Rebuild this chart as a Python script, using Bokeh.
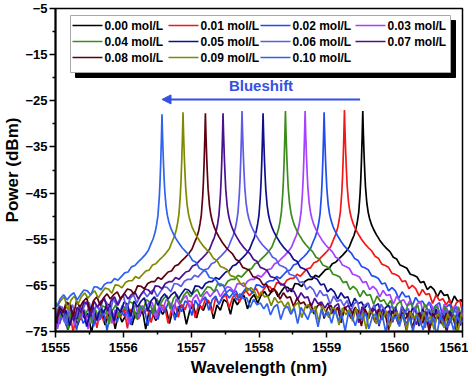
import numpy as np
from bokeh.plotting import figure
from bokeh.models import FixedTicker, Arrow, NormalHead, Label, Range1d
from bokeh.core.properties import value
from bokeh.embed import file_html
from bokeh.resources import INLINE

# ---------------- data ----------------
labels = ["0.00 mol/L", "0.01 mol/L", "0.02 mol/L", "0.03 mol/L", "0.04 mol/L",
          "0.05 mol/L", "0.06 mol/L", "0.07 mol/L", "0.08 mol/L", "0.09 mol/L",
          "0.10 mol/L"]
peak_wavelength = [1559.53, 1559.26, 1558.96, 1558.68, 1558.39, 1558.06,
                   1557.75, 1557.47, 1557.21, 1556.88, 1556.57]
peak_power = [-27.2, -27.0, -27.5, -27.2, -27.2, -27.7, -27.2, -27.7, -27.7,
              -27.5, -27.9]

# spectral shape (dBm), for a peak level of REF_PEAK,
# offsets in nm from the peak
REF_PEAK = -27.5
near_offset = [0.0, 0.005, 0.01, 0.02, 0.03, 0.04, 0.06, 0.08, 0.10, 0.13,
               0.16, 0.20, 0.25, 0.30, 0.35]
near_right = [-27.5, -30.5, -33.0, -37.5, -41.0, -44.0, -47.5, -49.5, -50.8,
              -52.2, -53.2, -54.3, -55.5, -56.5, -57.3]
near_left = [-27.5, -30.5, -33.5, -38.5, -42.5, -45.5, -49.5, -51.5, -53.0,
             -54.5, -55.5, -57.0, -58.0, -58.8, -59.5]
tail_offset = [0.40, 0.45, 0.50, 0.55, 0.60, 0.65, 0.70, 0.75, 0.80, 0.85,
               0.90, 0.95, 1.00, 1.05, 1.10, 1.15, 1.20, 1.25, 1.30, 1.35,
               1.40, 1.45, 1.50, 1.55, 1.60, 1.65, 1.70, 1.75, 1.80, 1.85,
               1.90, 1.95, 2.00, 2.05, 2.10, 2.15, 2.20, 2.25, 2.30, 2.35,
               2.40, 2.45, 2.50, 2.55, 2.60, 2.65, 2.70, 2.75, 2.80, 2.85,
               2.90, 2.95, 3.00, 3.05, 3.10, 3.15, 3.20, 3.25, 3.30, 3.35,
               3.40, 3.45, 3.50, 3.55, 3.60, 3.65, 3.70, 3.75, 3.80, 3.85,
               3.90, 3.95, 4.00, 4.05, 4.10, 4.15, 4.20, 4.25, 4.30, 4.35,
               4.40, 4.45, 4.50, 4.55, 4.60]
tail_right = [-58.0, -59.2, -59.6, -60.9, -61.2, -61.6, -62.9, -63.1, -63.5, -64.7,
              -64.5, -66.2, -65.5, -66.2, -67.8, -66.4, -67.5, -67.3, -69.4, -67.6,
              -68.8, -68.4, -69.7, -68.6, -71.0, -69.3, -68.75, -72.0, -69.7, -69.15,
              -70.9, -69.5, -72.9, -69.4, -70.65, -72.0, -69.8, -70.25, -73.6, -69.9,
              -71.35, -70.3, -72.8, -69.95, -72.2, -70.95, -74.5, -70.45, -71.3, -73.35,
              -70.7, -72.15, -70.5, -74.0, -71.45, -70.8, -73.0, -71.25, -74.8, -70.8,
              -72.15, -71.3, -73.5, -70.8, -72.85, -71.6, -74.6, -71.2, -72.05, -74.25,
              -71.2, -72.8, -71.4, -75.55, -71.15, -72.4, -73.7, -71.6, -74.35, -71.15,
              -72.8, -72.0, -75.2, -71.5, -73.4]
tail_left = [-60.3, -60.6, -61.7, -61.9, -62.7, -63.5, -63.1, -64.0, -64.0, -64.4,
             -65.55, -65.0, -64.9, -66.7, -65.8, -65.6, -66.6, -67.75, -66.2, -66.8,
             -67.75, -66.65, -67.5, -69.15, -67.3, -68.15, -70.4, -67.5, -68.25, -69.5,
             -68.2, -71.55, -68.9, -68.4, -70.7, -69.55, -72.55, -69.15, -68.85, -70.75,
             -69.65, -72.4, -69.5, -70.7, -73.75, -70.05, -69.75, -72.1, -70.6, -73.55,
             -70.25, -71.6, -70.1, -72.95, -71.3, -70.65, -74.8, -70.55, -72.4, -71.15,
             -73.9, -70.65, -72.0, -73.25, -71.15, -74.7, -71.05, -71.75, -73.9, -70.8,
             -73.05, -71.7, -75.6, -71.35, -72.45, -71.2, -73.9, -71.65, -72.85, -74.9,
             -71.2, -72.35, -73.65, -71.5, -74.8]

x_ticks = [1555, 1556, 1557, 1558, 1559, 1560, 1561]
y_ticks = [-75, -65, -55, -45, -35, -25, -15, -5]

# ---------------- styles ----------------
colors = ["#000000", "#f21818", "#1f4df0", "#a542ff", "#3a8c1c", "#10108e",
          "#5b5be6", "#4b1090", "#5e0012", "#7f8a00", "#2f62ee"]
FONT = "Liberation Sans"
BLUE = "#3450e6"
FW, FH = 407, 323
X0, X1, Y0, Y1 = 1555, 1561, -75, -5

p = figure(frame_width=FW, frame_height=FH,
           x_range=Range1d(X0, X1), y_range=Range1d(Y0, Y1),
           output_backend="svg", toolbar_location=None,
           min_border_left=53, min_border_right=6, min_border_top=8,
           min_border_bottom=40, background_fill_color="white",
           border_fill_color="white")
p.xgrid.visible = False
p.ygrid.visible = False
p.outline_line_color = "black"
p.outline_line_width = 1.5

off = np.array(near_offset)
toff = np.array(tail_offset)
x_shape = np.concatenate([-toff[::-1], -off[1:][::-1], off, toff])
y_shape = np.concatenate([np.array(tail_left)[::-1], np.array(near_left)[1:][::-1],
                          np.array(near_right), np.array(tail_right)])

for c0, pk, col in zip(peak_wavelength, peak_power, colors):
    p.line(x_shape + c0, y_shape + (pk - REF_PEAK), line_color=col,
           line_width=1.7)

# axes
for ax in (p.xaxis[0], p.yaxis[0]):
    ax.axis_line_width = 2
    ax.major_tick_in = 0
    ax.major_tick_out = 6
    ax.minor_tick_in = 0
    ax.minor_tick_out = 3
    ax.major_tick_line_width = 1.5
    ax.minor_tick_line_width = 1.5
    ax.major_label_text_font = FONT
    ax.major_label_text_font_style = "bold"
    ax.major_label_text_font_size = "13px"
    ax.major_label_text_color = "black"
    ax.axis_label_text_font = FONT
    ax.axis_label_text_font_style = "bold"
    ax.axis_label_text_font_size = "17px"
    ax.axis_label_text_color = "black"
p.xaxis.ticker = FixedTicker(ticks=x_ticks,
                             minor_ticks=[1555.5, 1556.5, 1557.5, 1558.5, 1559.5, 1560.5])
p.yaxis.ticker = FixedTicker(ticks=y_ticks,
                             minor_ticks=[-70, -60, -50, -40, -30, -20, -10])
p.xaxis.axis_label = "Wavelength (nm)"
p.yaxis.axis_label = "Power (dBm)"
p.xaxis.major_label_standoff = 5
p.xaxis.axis_label_standoff = 3
p.yaxis.major_label_standoff = 2
p.yaxis.axis_label_standoff = 0


# ---------------- legend box with drop shadow (frame pixel layout) ----------------
def fx(px):
    return X0 + px * (X1 - X0) / FW


def fy(py):
    return Y1 - py * (Y1 - Y0) / FH


BOX_L, BOX_R, BOX_T, BOX_B, SH = 15, 395, 7, 64, 5
ROW_Y = [17, 33, 49]
COL_X = [17, 113, 205, 300]
GLYPH_W, TEXT_GAP = 30, 2

p.quad(left=fx(BOX_L + SH), right=fx(BOX_R + SH), top=fy(BOX_T + SH),
       bottom=fy(BOX_B + SH), fill_color="black", fill_alpha=1.0,
       line_color="black", line_alpha=1.0)
p.quad(left=fx(BOX_L), right=fx(BOX_R), top=fy(BOX_T), bottom=fy(BOX_B),
       fill_color="white", fill_alpha=1.0, line_color="#a8a8a8", line_width=1)
gx0 = [fx(COL_X[i % 4]) for i in range(len(labels))]
gx1 = [fx(COL_X[i % 4] + GLYPH_W) for i in range(len(labels))]
gy = [fy(ROW_Y[i // 4]) for i in range(len(labels))]
tx = [fx(COL_X[i % 4] + GLYPH_W + TEXT_GAP) for i in range(len(labels))]
p.segment(x0=gx0, y0=gy, x1=gx1, y1=gy, line_color=colors, line_width=1.7)
p.text(x=tx, y=gy, text=labels, text_font=value(FONT), text_font_style="bold",
       text_font_size="12px", text_baseline="middle", text_align="left",
       text_color="black")

# blueshift arrow
p.add_layout(Arrow(x_start=1559.49, y_start=-24.7, x_end=1556.57, y_end=-24.7,
                   line_color=BLUE, line_width=2,
                   end=NormalHead(size=9, fill_color=BLUE, line_color=BLUE)))
p.add_layout(Label(x=1558.03, y=-21.7, text="Blueshift", text_align="center",
                   text_baseline="middle", text_font=FONT,
                   text_font_style="bold", text_font_size="15px",
                   text_color=BLUE))

open("out.html", "w").write(file_html(p, INLINE))
